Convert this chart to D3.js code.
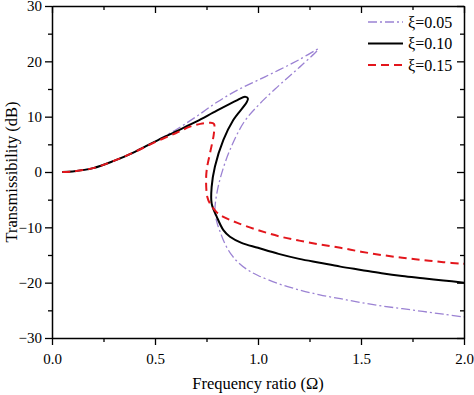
<!DOCTYPE html>
<html>
<head>
<meta charset="utf-8">
<script src="https://cdn.jsdelivr.net/npm/d3@7"></script>
<style>
  body { margin: 0; background: #fff; }
  svg text { font-family: "Times New Roman", "Liberation Serif", Tinos, "DejaVu Serif", serif; }
</style>
</head>
<body>
<div id="chart"></div>
<script>
// Frequency ratio (Omega) and transmissibility (dB)
var labels = ["\u03be=0.05", "\u03be=0.10", "\u03be=0.15"];

var omega005 = [0.05, 0.1, 0.2, 0.3, 0.4, 0.5, 0.6, 0.7, 0.8, 0.9, 1.0, 1.1, 1.2, 1.293,
                1.212, 1.083, 1.0, 0.93, 0.864, 0.824, 0.80, 0.791, 0.80, 0.816, 0.84, 0.87, 0.9, 0.95, 1.0, 1.1, 1.2, 1.3, 1.4, 1.5, 1.6, 1.7, 1.8, 1.9, 2.0];
var db005 =    [0, 0.1, 0.7, 2.0, 3.6, 5.5, 7.6, 10.0, 12.6, 14.8, 16.6, 18.4, 20.3, 22.2,
                19.3, 15.0, 12.0, 8.9, 4.0, -0.2, -3.9, -6.9, -9.0, -10.8, -13.0, -14.9, -16.2, -17.7, -18.7, -20.2, -21.3, -22.2, -22.9, -23.6, -24.2, -24.7, -25.2, -25.7, -26.2];

var omega010 = [0.05, 0.1, 0.2, 0.3, 0.4, 0.5, 0.6, 0.7, 0.8, 0.9, 0.937, 0.951,
                0.945, 0.88, 0.832, 0.791, 0.775, 0.775, 0.80, 0.832, 0.864, 0.92, 1.0, 1.1, 1.2, 1.3, 1.4, 1.5, 1.6, 1.7, 1.8, 1.9, 2.0];
var db010 =    [0, 0.1, 0.7, 2.0, 3.6, 5.5, 7.3, 9.1, 11.1, 13.0, 13.6, 13.3,
                12.6, 9.4, 5.8, 1.0, -2.7, -5.7, -8.1, -10.5, -11.7, -12.8, -13.7, -14.8, -15.7, -16.4, -17.1, -17.7, -18.3, -18.8, -19.2, -19.6, -20.0];

var omega015 = [0.05, 0.1, 0.2, 0.3, 0.4, 0.5, 0.6, 0.67, 0.72, 0.767, 0.786,
                0.786, 0.767, 0.751, 0.748, 0.754, 0.767, 0.80, 0.832, 0.9, 1.0, 1.1, 1.2, 1.3, 1.4, 1.5, 1.6, 1.7, 1.8, 1.9, 2.0];
var db015 =    [0, 0.1, 0.7, 2.0, 3.6, 5.4, 7.0, 8.2, 8.7, 8.9, 8.7,
                7.0, 3.4, 0.4, -2.0, -4.5, -5.7, -7.3, -8.1, -9.2, -10.5, -11.6, -12.4, -13.1, -13.7, -14.4, -15.0, -15.5, -15.9, -16.3, -16.6];

var xTicks = [0, 0.5, 1.0, 1.5, 2.0];
var yTicks = [-30, -20, -10, 0, 10, 20, 30];

function init(){

  var w = 474;
  var h = 395;
  var left = 52, right = 464, top = 6, bottom = 338;
  var serif = '"Times New Roman", "Liberation Serif", Tinos, "DejaVu Serif", serif';

  var svg = d3.select("#chart")
              .append("svg")
              .attr("width", w)
              .attr("height", h)
              .attr("font-family", serif);

  var xScale = d3.scaleLinear().domain([0, 2]).range([left, right]);
  var yScale = d3.scaleLinear().domain([-30, 30]).range([bottom, top]);

  // pair up the arrays for each curve
  function zip(xs, ys){
    return xs.map(function(x, i){ return [x, ys[i]]; });
  }

  var series = [
    { data: zip(omega005, db005), color: "#9b82d3", dash: "9,3,2,3", width: 1.3 },
    { data: zip(omega010, db010), color: "#000000", dash: null, width: 2 },
    { data: zip(omega015, db015), color: "#e3161c", dash: "8,5", width: 2 }
  ];

  var line = d3.line()
               .x(function(d){ return xScale(d[0]); })
               .y(function(d){ return yScale(d[1]); })
               .curve(d3.curveCatmullRom.alpha(0.5));

  svg.append("g")
     .selectAll("path")
     .data(series)
     .enter()
     .append("path")
     .attr("d", function(d){ return line(d.data); })
     .attr("fill", "none")
     .attr("stroke", function(d){ return d.color; })
     .attr("stroke-width", function(d){ return d.width; })
     .attr("stroke-dasharray", function(d){ return d.dash; });

  // minor ticks are halfway between majors
  var xMinor = d3.range(0.25, 2, 0.5);
  var yMinor = d3.range(-25, 30, 10);

  // Bottom axis, ticks outward
  var gx = svg.append("g")
      .attr("transform", "translate(0," + bottom + ")")
      .call(d3.axisBottom(xScale).tickValues(xTicks).tickFormat(d3.format(".1f")).tickSize(7).tickSizeOuter(0));
  gx.append("g").call(d3.axisBottom(xScale).tickValues(xMinor).tickFormat("").tickSize(4).tickSizeOuter(0))
    .select(".domain").remove();

  // Left axis, ticks outward
  var gy = svg.append("g")
      .attr("transform", "translate(" + left + ",0)")
      .call(d3.axisLeft(yScale).tickValues(yTicks).tickFormat(d3.format("d")).tickSize(7).tickSizeOuter(0));
  gy.append("g").call(d3.axisLeft(yScale).tickValues(yMinor).tickFormat("").tickSize(4).tickSizeOuter(0))
    .select(".domain").remove();

  // Top and right mirror axes, ticks inward
  var gt = svg.append("g")
      .attr("transform", "translate(0," + top + ")")
      .call(d3.axisTop(xScale).tickValues(xTicks).tickFormat("").tickSize(-7).tickSizeOuter(0));
  gt.append("g").call(d3.axisTop(xScale).tickValues(xMinor).tickFormat("").tickSize(-4).tickSizeOuter(0))
    .select(".domain").remove();

  var gr = svg.append("g")
      .attr("transform", "translate(" + right + ",0)")
      .call(d3.axisRight(yScale).tickValues(yTicks).tickFormat("").tickSize(-7).tickSizeOuter(0));
  gr.append("g").call(d3.axisRight(yScale).tickValues(yMinor).tickFormat("").tickSize(-4).tickSizeOuter(0))
    .select(".domain").remove();

  svg.selectAll("g").attr("font-family", serif);
  svg.selectAll(".domain").attr("stroke-width", 1.5);
  svg.selectAll(".tick line").attr("stroke-width", 1.3);
  svg.selectAll(".tick text")
     .attr("font-size", 15)
     .attr("fill", "#000");
  gx.selectAll(".tick text").attr("dy", "1.05em");

  // Axis titles
  svg.append("text")
     .attr("x", (left + right) / 2)
     .attr("y", 389)
     .attr("text-anchor", "middle")
     .attr("font-size", 16.5)
     .text("Frequency ratio (\u03a9)");

  svg.append("text")
     .attr("transform", "translate(17," + (top + bottom) / 2 + ") rotate(-90)")
     .attr("text-anchor", "middle")
     .attr("font-size", 16.5)
     .text("Transmissibility (dB)");

  // Legend
  var legend = svg.append("g")
      .selectAll("g")
      .data(series)
      .enter()
      .append("g")
      .attr("transform", function(d, i){ return "translate(368," + (22 + i * 21.5) + ")"; });

  legend.append("line")
     .attr("x1", 0).attr("x2", 35)
     .attr("y1", 0).attr("y2", 0)
     .attr("stroke", function(d){ return d.color; })
     .attr("stroke-width", function(d){ return d.width; })
     .attr("stroke-dasharray", function(d){ return d.dash; });

  legend.append("text")
     .attr("x", 40)
     .attr("y", 0)
     .attr("dy", "0.35em")
     .attr("font-size", 16)
     .text(function(d, i){ return labels[i]; });
}

window.onload = init;
</script>
</body>
</html>
